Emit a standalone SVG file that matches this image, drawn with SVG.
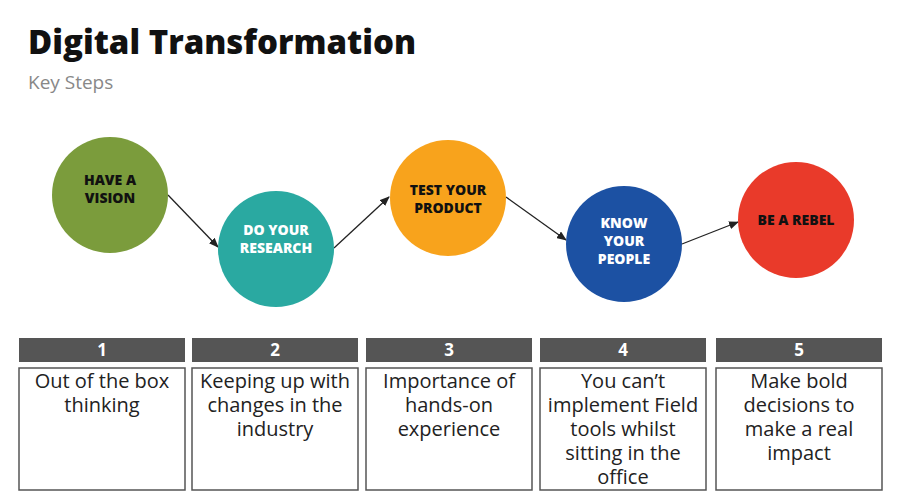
<svg xmlns="http://www.w3.org/2000/svg" width="898" height="504" viewBox="0 0 898 504">
<defs>
<marker id="ah" markerWidth="10" markerHeight="8" refX="9" refY="4" orient="auto" markerUnits="userSpaceOnUse"><path d="M0,0 L10,4 L0,8 z" fill="#222"/></marker>
<style>
.c{stroke:none}
.ct{font-family:"Open Sans","Liberation Sans",sans-serif;font-weight:800;font-size:14px;fill:#111;text-anchor:middle}
.ctw{fill:#fff}
.hd{fill:#555}
.hn{font-family:"Open Sans","Liberation Sans",sans-serif;font-weight:700;font-size:17px;fill:#fff;text-anchor:middle}
.bx{fill:#fff;stroke:#555;stroke-width:1.5}
.bt{font-family:"Open Sans","Liberation Sans",sans-serif;font-size:20px;fill:#222;text-anchor:middle}
.ln{stroke:#222;stroke-width:1.3;fill:none}
</style>
</defs>
<rect width="898" height="504" fill="#fff"/>
<text x="28" y="54" font-family="Open Sans,Liberation Sans,sans-serif" font-weight="800" font-size="33" fill="#111">Digital Transformation</text>
<text x="28" y="89" font-family="Open Sans,Liberation Sans,sans-serif" font-size="19" fill="#888">Key Steps</text>
<g id="connectors">
<line class="ln" x1="168" y1="195" x2="218" y2="247" marker-end="url(#ah)"/>
<line class="ln" x1="334" y1="248" x2="389" y2="197" marker-end="url(#ah)"/>
<line class="ln" x1="506" y1="197" x2="566" y2="240" marker-end="url(#ah)"/>
<line class="ln" x1="682" y1="244" x2="738" y2="222" marker-end="url(#ah)"/>
</g>
<g id="node1"><circle class="c" cx="110" cy="195" r="58" fill="#7b9c3c"/><text class="ct" x="110" y="185">HAVE A</text><text class="ct" x="110" y="203">VISION</text></g>
<g id="node2"><circle class="c" cx="276" cy="249" r="58" fill="#2aa9a1"/><text class="ct ctw" x="276" y="235">DO YOUR</text><text class="ct ctw" x="276" y="253">RESEARCH</text></g>
<g id="node3"><circle class="c" cx="448" cy="198" r="58" fill="#f8a31c"/><text class="ct" x="448" y="195">TEST YOUR</text><text class="ct" x="448" y="213">PRODUCT</text></g>
<g id="node4"><circle class="c" cx="624" cy="244" r="58" fill="#1c51a3"/><text class="ct ctw" x="624" y="228">KNOW</text><text class="ct ctw" x="624" y="246">YOUR</text><text class="ct ctw" x="624" y="264">PEOPLE</text></g>
<g id="node5"><circle class="c" cx="796" cy="220" r="58" fill="#e93a2a"/><text class="ct" x="796" y="225">BE A REBEL</text></g>
<g id="step1"><rect class="hd" x="19" y="338" width="166" height="24"/><text class="hn" x="102" y="356">1</text><rect class="bx" x="19" y="368" width="166" height="122"/><text class="bt" x="102" y="388">Out of the box</text><text class="bt" x="102" y="412">thinking</text></g>
<g id="step2"><rect class="hd" x="192" y="338" width="166" height="24"/><text class="hn" x="275" y="356">2</text><rect class="bx" x="192" y="368" width="166" height="122"/><text class="bt" x="275" y="388">Keeping up with</text><text class="bt" x="275" y="412">changes in the</text><text class="bt" x="275" y="436">industry</text></g>
<g id="step3"><rect class="hd" x="366" y="338" width="166" height="24"/><text class="hn" x="449" y="356">3</text><rect class="bx" x="366" y="368" width="166" height="122"/><text class="bt" x="449" y="388">Importance of</text><text class="bt" x="449" y="412">hands-on</text><text class="bt" x="449" y="436">experience</text></g>
<g id="step4"><rect class="hd" x="540" y="338" width="166" height="24"/><text class="hn" x="623" y="356">4</text><rect class="bx" x="540" y="368" width="166" height="122"/><text class="bt" x="623" y="388">You can’t</text><text class="bt" x="623" y="412">implement Field</text><text class="bt" x="623" y="436">tools whilst</text><text class="bt" x="623" y="460">sitting in the</text><text class="bt" x="623" y="484">office</text></g>
<g id="step5"><rect class="hd" x="716" y="338" width="166" height="24"/><text class="hn" x="799" y="356">5</text><rect class="bx" x="716" y="368" width="166" height="122"/><text class="bt" x="799" y="388">Make bold</text><text class="bt" x="799" y="412">decisions to</text><text class="bt" x="799" y="436">make a real</text><text class="bt" x="799" y="460">impact</text></g>
</svg>
